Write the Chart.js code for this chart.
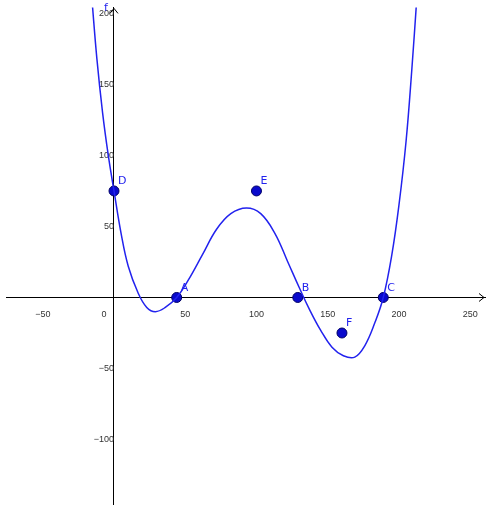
<!DOCTYPE html>
<html>
<head>
<meta charset="utf-8">
<script src="https://cdn.jsdelivr.net/npm/chart.js@4"></script>
<style>
  html, body { margin: 0; padding: 0; background: #fff; }
  #wrap { width: 491px; height: 512px; }
</style>
</head>
<body>
<div id="wrap"><canvas id="c"></canvas></div>
<script>
// curve f, points
const curveX = [-15.5, -12, -8, -4, 0, 5, 10, 17, 23, 29, 36, 44, 52, 62, 72, 82, 93, 103, 113, 122, 130, 137, 145, 153, 161, 169, 176, 183, 189, 195, 200, 205, 209, 212.5];
const curveY = [210, 168, 130, 100, 75, 45, 22, 3, -7, -10, -7, 0, 12, 30, 48, 59, 63, 59, 45, 25, 7, -8, -23, -35, -41, -42, -34, -18, 0, 30, 65, 110, 160, 210];

const pointNames = ["A", "B", "C", "D", "E", "F"];
const pointX = [44, 129, 189, 0, 100, 160];
const pointY = [0, 0, 0, 75, 75, -25];

const xTicks = [-50, 0, 50, 100, 150, 200, 250];
const yTicks = [-100, -50, 50, 100, 150, 200];

const BLUE = "#2222ee";

const labelPlugin = {
  id: "labels",
  afterDatasetsDraw(chart) {
    const { ctx, scales: { x, y } } = chart;
    ctx.save();
    ctx.font = "11px 'DejaVu Sans', sans-serif";
    ctx.fillStyle = BLUE;
    ctx.textBaseline = "bottom";
    pointNames.forEach((n, i) => {
      ctx.fillText(n, x.getPixelForValue(pointX[i]) + 4, y.getPixelForValue(pointY[i]) - 4);
    });
    ctx.fillText("f", x.getPixelForValue(-7), y.getPixelForValue(200));
    // axis arrows
    const ox = x.getPixelForValue(0), oy = y.getPixelForValue(0);
    ctx.strokeStyle = "#000";
    ctx.lineWidth = 1;
    ctx.beginPath();
    ctx.moveTo(x.right - 6, oy - 4); ctx.lineTo(x.right - 1, oy); ctx.lineTo(x.right - 6, oy + 4);
    ctx.moveTo(ox - 4, y.top + 6); ctx.lineTo(ox, y.top + 1); ctx.lineTo(ox + 4, y.top + 6);
    ctx.stroke();
    ctx.restore();
  }
};

new Chart(document.getElementById("c"), {
  type: "scatter",
  data: {
    datasets: [
      {
        data: curveX.map((v, i) => ({ x: v, y: curveY[i] })),
        showLine: true,
        borderColor: BLUE,
        borderWidth: 1.5,
        pointRadius: 0,
        tension: 0.4
      },
      {
        data: pointX.map((v, i) => ({ x: v, y: pointY[i] })),
        pointRadius: 5,
        backgroundColor: "#0a0acc",
        borderColor: "#000066",
        borderWidth: 1
      }
    ]
  },
  options: {
    responsive: true,
    maintainAspectRatio: false,
    animation: false,
    layout: { padding: 0 },
    plugins: { legend: { display: false }, tooltip: { enabled: false } },
    scales: {
      x: {
        type: "linear", min: -75.8, max: 260.4,
        position: { y: 0 },
        grid: { display: false },
        border: { color: "#000" },
        afterBuildTicks: (s) => { s.ticks = xTicks.map(v => ({ value: v })); },
        ticks: { color: "#333", font: { size: 9 }, padding: 4,
          callback: (v) => v === 0 ? "0        " : String(v).replace("-", "\u2212") }
      },
      y: {
        type: "linear", min: -145.8, max: 204.2,
        position: { x: 0 },
        grid: { display: false },
        border: { color: "#000" },
        afterBuildTicks: (s) => { s.ticks = yTicks.map(v => ({ value: v })); },
        ticks: { color: "#333", font: { size: 9 }, padding: 2,
          callback: (v) => String(v).replace("-", "\u2212") }
      }
    }
  },
  plugins: [labelPlugin]
});
</script>
</body>
</html>
